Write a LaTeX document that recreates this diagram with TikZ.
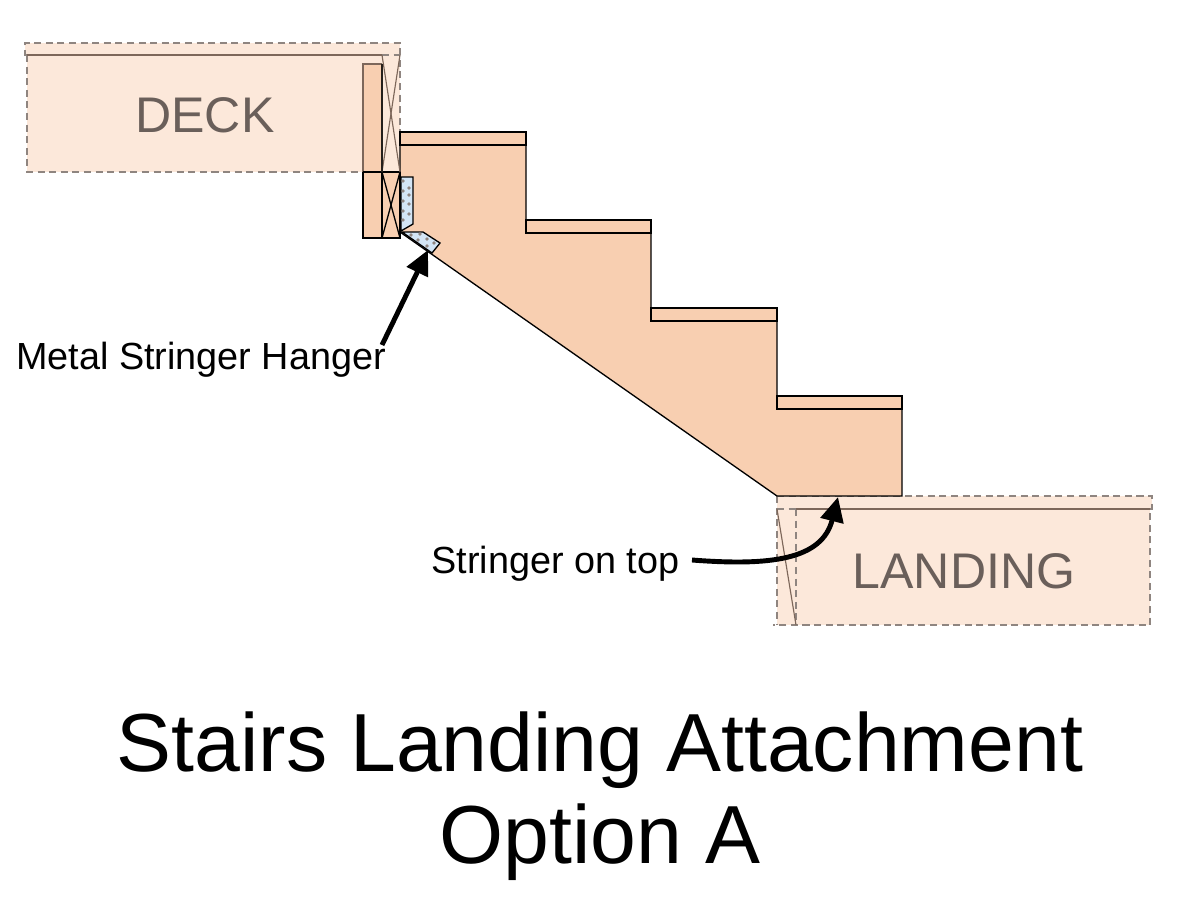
\documentclass[tikz,border=0pt]{standalone}
\usepackage{fontspec}
\setmainfont{Liberation Sans}
\usetikzlibrary{arrows.meta}
\definecolor{woodfill}{HTML}{F8CFB1}
\definecolor{deckfill}{HTML}{FCE8DA}
\definecolor{hangerfill}{HTML}{D3E5F5}
\definecolor{dashline}{HTML}{8F8580}
\definecolor{fadeline}{HTML}{7D675A}
\definecolor{labelgrey}{HTML}{6A5F5A}
\tikzset{
    outline/.style={draw=black, line width=0.75pt},
    faded/.style={draw=fadeline, line width=0.65pt},
    dashedge/.style={draw=dashline, line width=0.65pt, dashed, dash pattern=on 4pt off 2.6pt},
    pointer/.style={line width=2.8pt, -{Triangle[length=14pt,width=13pt]}},
    areatext/.style={text=labelgrey, font=\fontsize{28.5}{34}\selectfont},
    calltext/.style={font=\fontsize{21.5}{25}\selectfont, anchor=base west, inner sep=0pt}
}
\begin{document}
\begin{tikzpicture}[x=0.02cm, y=-0.02cm]
    \useasboundingbox (0,0) rectangle (1200,900);
    % deck
    \fill[deckfill] (25,43) rectangle (400,55);
    \fill[deckfill] (27,55) rectangle (400,172);
    \draw[dashedge] (27,55) -- (25,55) -- (25,43) -- (400,43) -- (400,132);
    \draw[dashedge] (27,55) -- (27,172) -- (363,172);
    \draw[faded] (27,55) -- (382,55);
    \draw[dashedge] (382,55) -- (400,55);
    % landing
    \fill[deckfill] (777,496) rectangle (1152,509);
    \fill[deckfill] (777,509) rectangle (1150,625);
    \draw[dashedge] (777,496) -- (1152,496) -- (1152,509) -- (1150,509) -- (1150,625) -- (773,625);
    \draw[dashedge] (777,496) -- (777,625);
    \draw[dashedge] (796,509) -- (796,625);
    \draw[dashedge] (777,509) -- (796,509);
    \draw[faded] (796,509) -- (1150,509);
    \draw[faded] (777,509) -- (796,625);
    % stringer
    \draw[outline, fill=woodfill] (400,145) -- (526,145) -- (526,233) -- (651,233) -- (651,321)
        -- (777,321) -- (777,409) -- (902,409) -- (902,496) -- (777,496) -- (400,232) -- cycle;
    \draw[outline, fill=woodfill] (400,132) rectangle (526,145);
    \draw[outline, fill=woodfill] (526,220) rectangle (651,233);
    \draw[outline, fill=woodfill] (651,308) rectangle (777,321);
    \draw[outline, fill=woodfill] (777,396) rectangle (902,409);
    % rim board and post
    \fill[woodfill] (363,64) rectangle (382,238);
    \fill[woodfill] (382,172) rectangle (400,238);
    \draw[faded] (382,64) -- (363,64) -- (363,172);
    \draw[outline] (363,172) -- (363,238) -- (400,238) -- (400,172) -- (363,172);
    \draw[outline] (382,172) -- (382,238);
    \draw[outline] (382,172) -- (400,238);
    \draw[outline] (400,172) -- (382,238);
    \draw[faded] (382,55) -- (400,172);
    \draw[faded] (400,55) -- (382,172);
    \draw[faded, draw=black!70!fadeline] (382,64) -- (382,172);
    % hanger
    \draw[outline, fill=hangerfill] (401,177) -- (413,177) -- (413,224) -- (401,231) -- cycle;
    \draw[outline, fill=hangerfill] (402,232) -- (423,232) -- (440,243) -- (432,253) -- cycle;
    \fill[dashline] (403,181) circle (1.8) (403,191) circle (1.8) (403,201) circle (1.8)
        (403,211) circle (1.8) (403,220) circle (1.8) (409,188) circle (1.8) (409,195) circle (1.8)
        (409,204) circle (1.8) (409,214) circle (1.8) (411,235) circle (1.8) (420,234) circle (1.8)
        (418,240) circle (1.8) (427,239) circle (1.8) (434,243) circle (1.8) (427,246) circle (1.8);
    % labels
    \node[areatext] (decktext) at (205,115) {DECK};
    \node[areatext] (landingtext) at (964,571) {LANDING};
    \node[calltext] (hangertext) at (16,369) {Metal Stringer Hanger};
    \node[calltext] (toptext) at (431,573) {Stringer on top};
    \node[font=\fontsize{46.9}{52.4}\selectfont, align=center] (titletext) at (600,796)
        {Stairs Landing Attachment\\Option A};
    % pointers
    \coordinate (hangertip) at (428,250);
    \coordinate (hangertail) at (382,345);
    \coordinate (toptip) at (838,497);
    \coordinate (toptail) at (692,560);
    \draw[pointer] (hangertail) -- (hangertip);
    \draw[pointer] (toptail) .. controls (770,566) and (822,560) .. (toptip);
\end{tikzpicture}
\end{document}
